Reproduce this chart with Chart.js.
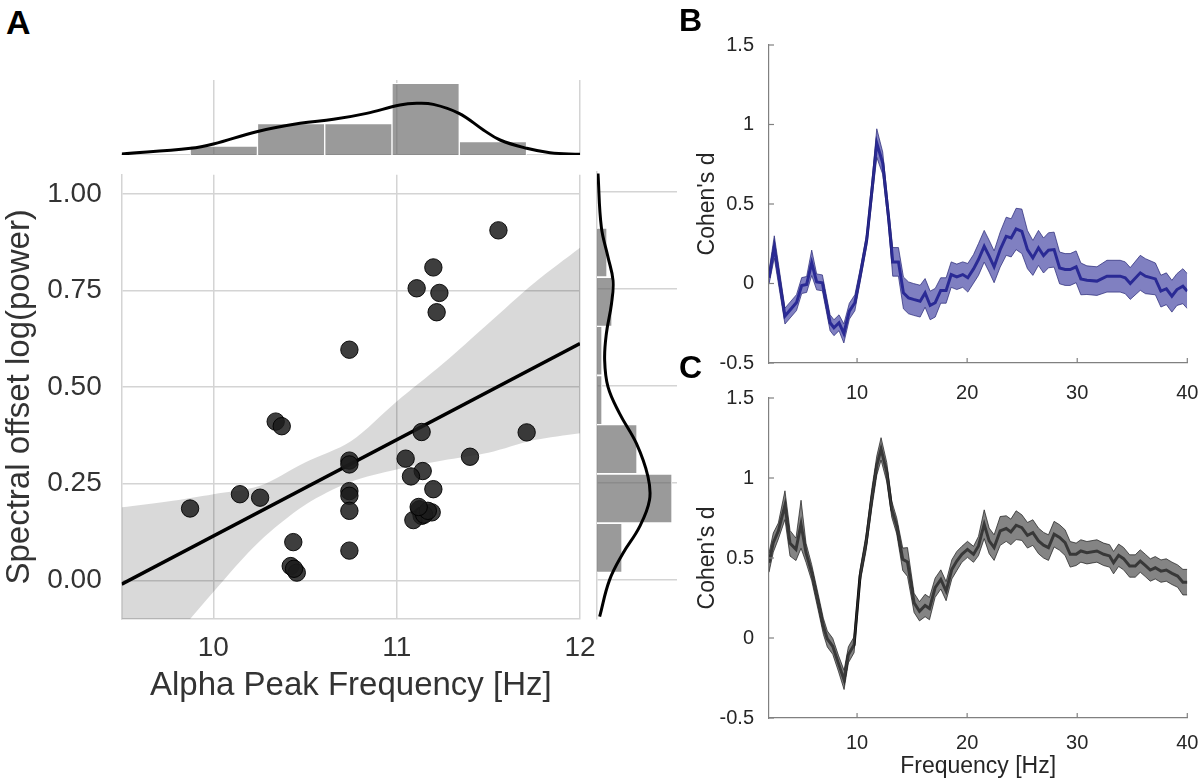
<!DOCTYPE html>
<html>
<head>
<meta charset="utf-8">
<script src="https://cdn.jsdelivr.net/npm/chart.js@4.4.1/dist/chart.umd.min.js"></script>
<style>
  body { margin: 0; background: #fff; }
  #page { position: relative; width: 1200px; height: 781px; overflow: hidden; background: #fff; }
  canvas { position: absolute; }
  .lbl { position: absolute; font-family: 'Liberation Sans', Arial, sans-serif; font-weight: bold; line-height: 1; color: #000; }
</style>
</head>
<body>
<div id="page">
  <canvas id="topHist" width="600" height="80" style="left:0px;top:75px"></canvas>
  <canvas id="scatterA" width="600" height="545" style="left:0px;top:165px"></canvas>
  <canvas id="rightHist" width="100" height="460" style="left:590px;top:165px"></canvas>
  <canvas id="chartB" width="510" height="380" style="left:690px;top:35px"></canvas>
  <canvas id="chartC" width="510" height="396" style="left:690px;top:385px"></canvas>
  <div class="lbl" style="left:6px;top:5px;font-size:34px">A</div>
  <div class="lbl" style="left:679px;top:4px;font-size:32px">B</div>
  <div class="lbl" style="left:679px;top:351px;font-size:32px">C</div>
</div>
<script>
// ---- panel A: alpha peak frequency vs spectral offset ----
var apfX = [11.555, 11.2, 11.109, 11.233, 11.218, 10.742, 10.34, 10.373, 11.136, 11.709,
            10.742, 11.049, 11.4, 11.142, 11.078, 11.2, 10.742, 10.742, 10.145, 10.255,
            9.873, 10.742, 11.124, 11.191, 11.136, 11.091, 10.436, 10.742, 10.422, 10.455,
            11.15, 11.17, 11.12, 10.44, 10.742];
var offsetY = [0.906, 0.81, 0.756, 0.744, 0.694, 0.597, 0.411, 0.399, 0.384, 0.383,
               0.31, 0.315, 0.32, 0.283, 0.269, 0.236, 0.231, 0.219, 0.223, 0.214,
               0.186, 0.18, 0.184, 0.176, 0.167, 0.156, 0.099, 0.077, 0.037, 0.02,
               0.17, 0.18, 0.19, 0.03, 0.30];

var regX = [9.5, 12];
var regY = [-0.01, 0.613];

var ciX    = [9.5, 9.75, 10, 10.25, 10.5, 10.75, 11, 11.25, 11.5, 11.75, 12];
var ciLow  = [-0.32, -0.17, -0.03, 0.1, 0.195, 0.255, 0.287, 0.31, 0.33, 0.363, 0.381];
var ciHigh = [0.189, 0.204, 0.223, 0.244, 0.305, 0.36, 0.463, 0.56, 0.665, 0.77, 0.861];

var apfTicks = [10, 11, 12];
var offTicks = [0, 0.25, 0.5, 0.75, 1];

// marginal histograms + kde
var histApfCenters = [10.057, 10.424, 10.791, 11.158, 11.525];
var histApfCounts  = [2, 7, 7, 16, 3];
var kdeApfX = [9.5, 9.876, 10, 10.236, 10.473, 10.655, 10.836, 11.018, 11.109, 11.2, 11.34, 11.473, 11.564, 11.709, 11.836, 12];
var kdeApfY = [0.22, 1.49, 2.46, 5.2, 7.07, 7.96, 9.3, 11.16, 11.53, 11.3, 9.3, 5.6, 3.35, 1.49, 0.52, 0.15];

var histOffCenters = [0.083, 0.210, 0.337, 0.463, 0.590, 0.716, 0.843];
var histOffCounts  = [5, 15, 8, 1, 1, 3, 2];
var kdeOffY = [1.046, 0.908, 0.831, 0.771, 0.711, 0.634, 0.566, 0.497, 0.429, 0.351, 0.266, 0.206, 0.137, 0.069, 0.0, -0.094];
var kdeOffX = [0.2, 0.87, 2.2, 3.2, 2.9, 1.87, 1.53, 2.2, 4.5, 7.9, 10.2, 10.5, 8.5, 5.2, 2.5, 0.53];

// ---- panel B ----
var freqB = [2,2.48,3.45,4.5,4.97,5.42,5.88,6.33,6.85,7.55,7.9,8.36,8.8,9.3,9.8,10.27,10.88,11.42,11.79,12.33,
             12.85,13.24,13.76,14.21,14.67,15.12,15.73,16.18,16.64,17.1,17.6,18.09,18.55,19.06,19.6,20.06,20.58,21.03,21.55,22,
             22.45,23,23.55,24,24.45,24.97,25.48,25.97,26.48,26.94,27.39,27.9,28.4,28.9,29.36,29.9,30.33,30.88,31.79,32.7,
             33.9,34.36,34.82,35.73,36.2,37.1,37.6,38.1,38.6,39.06,39.6,40];
var dB = [0.036,0.23,-0.205,-0.12,-0.013,-0.006,0.13,0.01,0.004,-0.247,-0.278,-0.247,-0.314,-0.174,-0.121,0.046,0.276,0.632,0.883,0.757,
          0.423,0.136,0.136,-0.059,-0.09,-0.1,-0.111,-0.059,-0.138,-0.121,-0.044,-0.044,0.056,0.042,0.056,0.036,0.092,0.151,0.234,0.172,
          0.105,0.213,0.297,0.287,0.343,0.328,0.213,0.161,0.224,0.176,0.209,0.213,0.098,0.088,0.088,0.105,0.029,0.021,0.015,0.046,
          0.046,0.036,0,0.067,0.046,0.029,-0.048,-0.033,-0.08,-0.038,-0.017,-0.048];
var ciB = [0.04,0.07,0.05,0.05,0.05,0.05,0.08,0.05,0.05,0.05,0.05,0.05,0.06,0.05,0.05,0.04,0.04,0.06,0.09,0.07,
           0.05,0.09,0.09,0.1,0.1,0.1,0.1,0.09,0.09,0.09,0.08,0.08,0.08,0.08,0.08,0.09,0.09,0.1,0.1,0.1,
           0.1,0.11,0.12,0.12,0.13,0.14,0.12,0.11,0.11,0.11,0.11,0.11,0.1,0.1,0.1,0.1,0.1,0.09,0.09,0.1,
           0.1,0.1,0.1,0.11,0.11,0.1,0.1,0.1,0.1,0.1,0.11,0.11];

// ---- panel C ----
var freqC = [2,2.39,2.85,3.45,3.91,4.45,4.91,5.36,5.88,6.48,6.94,7.3,7.79,8.3,8.82,9.21,9.73,10.27,10.82,11.33,
             11.79,12.18,12.7,13.15,13.6,14.15,14.58,15.18,15.67,16.18,16.58,17.09,17.61,18.09,18.61,19.06,19.52,20.03,20.58,21.03,
             21.55,22,22.45,23,23.55,23.97,24.45,24.97,25.48,25.97,26.48,26.94,27.39,27.9,28.4,28.9,29.36,29.9,30.33,30.88,
             31.79,32.4,32.94,33.3,33.76,34.21,34.76,35.27,35.73,36.18,36.64,37.09,37.61,38.09,38.61,39.12,39.6,40];
var dC = [0.471,0.596,0.669,0.83,0.592,0.554,0.711,0.533,0.408,0.22,0.073,-0.006,-0.052,-0.157,-0.262,-0.105,-0.042,0.387,0.596,0.868,
          1.077,1.182,1.036,0.805,0.701,0.492,0.475,0.22,0.167,0.203,0.184,0.314,0.366,0.293,0.429,0.481,0.523,0.554,0.523,0.575,
          0.711,0.607,0.565,0.669,0.684,0.663,0.705,0.69,0.642,0.659,0.607,0.58,0.565,0.649,0.628,0.596,0.523,0.523,0.544,0.533,
          0.544,0.523,0.513,0.471,0.517,0.496,0.45,0.45,0.481,0.454,0.425,0.439,0.418,0.425,0.404,0.387,0.349,0.349];
var ciC = [0.06,0.06,0.05,0.09,0.08,0.07,0.15,0.06,0.05,0.05,0.05,0.05,0.05,0.05,0.06,0.05,0.05,0.04,0.05,0.06,
           0.06,0.07,0.06,0.05,0.05,0.07,0.09,0.06,0.06,0.07,0.07,0.06,0.06,0.06,0.06,0.06,0.05,0.05,0.05,0.06,
           0.09,0.08,0.08,0.09,0.08,0.08,0.09,0.08,0.08,0.08,0.08,0.08,0.08,0.08,0.08,0.08,0.08,0.07,0.07,0.07,
           0.07,0.07,0.07,0.07,0.07,0.07,0.07,0.07,0.07,0.07,0.07,0.07,0.07,0.07,0.07,0.07,0.08,0.08];

var freqTicks = [10, 20, 30, 40];
var dTicks = [-0.5, 0, 0.5, 1, 1.5];

Chart.defaults.font.family = "'Liberation Sans', Arial, sans-serif";
Chart.defaults.color = '#262626';

var gridGray = '#d4d4d4';

function pts(xs, ys) {
  return xs.map(function (x, i) { return {x: x, y: ys[i]}; });
}
function setTicks(list) {
  return function (scale) {
    scale.ticks = list.map(function (v) { return {value: v}; });
  };
}
var noPlugins = { legend: {display: false}, tooltip: {enabled: false} };

// small inward tick marks, matlab style
var inwardTicks = {
  id: 'inwardTicks',
  afterDatasetsDraw: function (chart) {
    var ctx = chart.ctx, a = chart.chartArea, x = chart.scales.x, y = chart.scales.y;
    ctx.save();
    ctx.strokeStyle = '#808080';
    ctx.lineWidth = 1.2;
    x.ticks.forEach(function (t) {
      var px = x.getPixelForValue(t.value);
      ctx.beginPath(); ctx.moveTo(px, a.bottom); ctx.lineTo(px, a.bottom - 5); ctx.stroke();
    });
    y.ticks.forEach(function (t) {
      var py = y.getPixelForValue(t.value);
      ctx.beginPath(); ctx.moveTo(a.left, py); ctx.lineTo(a.left + 5, py); ctx.stroke();
    });
    ctx.restore();
  }
};

// Top marginal histogram
new Chart(document.getElementById('topHist'), {
  type: 'bar',
  data: {
    datasets: [{
      data: pts(histApfCenters, histApfCounts),
      backgroundColor: 'rgba(100,100,100,0.65)',
      borderColor: '#ffffff',
      borderWidth: 1,
      barPercentage: 1,
      categoryPercentage: 1,
      order: 1
    }, {
      type: 'line',
      data: pts(kdeApfX, kdeApfY),
      borderColor: '#000',
      borderWidth: 3,
      pointRadius: 0,
      tension: 0.4,
      fill: false,
      order: 0
    }]
  },
  options: {
    responsive: false,
    animation: false,
    plugins: noPlugins,
    layout: { padding: {left: 121.7, right: 20, top: 5, bottom: 0} },
    scales: {
      x: {
        type: 'linear', min: 9.5, max: 12, offset: false,
        afterBuildTicks: setTicks(apfTicks),
        ticks: {display: false},
        grid: {color: gridGray, lineWidth: 1.5, drawTicks: false, offset: false},
        border: {color: gridGray, width: 1.5},
        afterFit: function (s) { s.height = 0; s.paddingLeft = 0; s.paddingRight = 0; }
      },
      y: { min: 0, max: 16.75, display: false }
    }
  }
});

// Main scatter
new Chart(document.getElementById('scatterA'), {
  type: 'scatter',
  data: {
    datasets: [{
      type: 'line',
      data: pts(ciX, ciLow),
      borderWidth: 0,
      borderColor: 'rgba(0,0,0,0)',
      pointRadius: 0,
      tension: 0.3,
      fill: false,
      order: 3
    }, {
      type: 'line',
      data: pts(ciX, ciHigh),
      borderWidth: 0,
      borderColor: 'rgba(0,0,0,0)',
      backgroundColor: 'rgba(0,0,0,0.15)',
      pointRadius: 0,
      tension: 0.3,
      fill: '-1',
      order: 2
    }, {
      type: 'line',
      data: pts(regX, regY),
      borderColor: '#000',
      borderWidth: 3.5,
      pointRadius: 0,
      fill: false,
      order: 1
    }, {
      data: pts(apfX, offsetY),
      backgroundColor: 'rgba(28,28,28,0.85)',
      borderColor: 'rgba(0,0,0,0.9)',
      borderWidth: 1,
      pointRadius: 8.7,
      order: 0
    }]
  },
  options: {
    responsive: false,
    animation: false,
    plugins: noPlugins,
    layout: { padding: {left: 0, right: 20, top: 7, bottom: 0} },
    scales: {
      x: {
        type: 'linear', min: 9.5, max: 12,
        afterBuildTicks: setTicks(apfTicks),
        ticks: {font: {size: 28}, color: '#333', padding: 12, maxRotation: 0,
                callback: function (v) { return String(v); }},
        grid: {color: gridGray, lineWidth: 1.5, drawTicks: false},
        border: {color: gridGray, width: 1.5},
        title: {display: true, text: 'Alpha Peak Frequency [Hz]', color: '#333',
                font: {size: 33}, padding: {top: 0, bottom: 4}},
        afterFit: function (s) { s.height = 91; s.paddingLeft = 0; s.paddingRight = 0; }
      },
      y: {
        type: 'linear', min: -0.1, max: 1.05,
        afterBuildTicks: setTicks(offTicks),
        ticks: {font: {size: 28}, color: '#333', padding: 20,
                callback: function (v) { return v.toFixed(2); }},
        grid: {color: gridGray, lineWidth: 1.5, drawTicks: false},
        border: {color: gridGray, width: 1.5},
        title: {display: true, text: 'Spectral offset log(power)', color: '#333',
                font: {size: 33}, padding: {top: 0, bottom: 0}},
        afterFit: function (s) { s.width = 121.7; s.paddingTop = 0; s.paddingBottom = 0; }
      }
    }
  }
});

// Right marginal histogram
new Chart(document.getElementById('rightHist'), {
  type: 'bar',
  data: {
    datasets: [{
      data: histOffCenters.map(function (c, i) { return {x: histOffCounts[i], y: c}; }),
      backgroundColor: 'rgba(100,100,100,0.65)',
      borderColor: '#ffffff',
      borderWidth: 1,
      barPercentage: 1,
      categoryPercentage: 1,
      order: 1
    }, {
      type: 'line',
      data: pts(kdeOffX, kdeOffY),
      borderColor: '#000',
      borderWidth: 3,
      pointRadius: 0,
      tension: 0.4,
      fill: false,
      order: 0
    }]
  },
  options: {
    indexAxis: 'y',
    responsive: false,
    animation: false,
    plugins: noPlugins,
    layout: { padding: {left: 7, right: 13, top: 7, bottom: 6} },
    scales: {
      y: {
        type: 'linear', min: -0.1, max: 1.05, offset: false,
        afterBuildTicks: setTicks(offTicks),
        ticks: {display: false},
        grid: {color: gridGray, lineWidth: 1.5, drawTicks: false, offset: false},
        border: {color: gridGray, width: 1.5},
        afterFit: function (s) { s.width = 0; s.paddingTop = 0; s.paddingBottom = 0; }
      },
      x: { type: 'linear', min: 0, max: 16, display: false }
    }
  }
});

function effectChart(id, freq, d, ci, lineColor, bandColor, edgeColor, opts) {
  var lower = d.map(function (v, i) { return v - ci[i]; });
  var upper = d.map(function (v, i) { return v + ci[i]; });
  return new Chart(document.getElementById(id), {
    type: 'line',
    data: {
      datasets: [{
        data: pts(freq, lower),
        borderColor: edgeColor, borderWidth: 0.8, pointRadius: 0, fill: false
      }, {
        data: pts(freq, upper),
        borderColor: edgeColor, borderWidth: 0.8, pointRadius: 0,
        fill: '-1', backgroundColor: bandColor
      }, {
        data: pts(freq, d),
        borderColor: lineColor, borderWidth: 3, pointRadius: 0, fill: false
      }]
    },
    plugins: [inwardTicks],
    options: {
      responsive: false,
      animation: false,
      plugins: noPlugins,
      layout: { padding: {left: 0, right: 12.7, top: opts.padTop, bottom: 0} },
      scales: {
        x: {
          type: 'linear', min: 2, max: 40,
          afterBuildTicks: setTicks(freqTicks),
          ticks: {font: {size: 20}, color: '#262626', padding: opts.xPad, maxRotation: 0,
                  callback: function (v) { return String(v); }},
          grid: {display: false},
          border: {color: '#808080', width: 1.2},
          title: {display: opts.xTitle, text: 'Frequency [Hz]', color: '#262626',
                  font: {size: 23}, padding: {top: 0, bottom: 1}},
          afterFit: function (s) { s.height = opts.xHeight; s.paddingLeft = 0; s.paddingRight = 0; }
        },
        y: {
          type: 'linear', min: -0.5, max: 1.5,
          afterBuildTicks: setTicks(dTicks),
          ticks: {font: {size: 20}, color: '#262626', padding: 7,
                  callback: function (v) { return String(v); }},
          grid: {display: false},
          border: {color: '#808080', width: 1.2},
          title: {display: true, text: "Cohen's d", color: '#262626',
                  font: {size: 23}, padding: {top: 4, bottom: 0}},
          afterFit: function (s) { s.width = 79; s.paddingTop = 0; s.paddingBottom = 0; }
        }
      }
    }
  });
}

effectChart('chartB', freqB, dB, ciB, '#0a0a80', 'rgba(60,60,160,0.65)', 'rgba(40,40,120,0.9)',
            {padTop: 10, xPad: 10, xHeight: 52, xTitle: false});
effectChart('chartC', freqC, dC, ciC, '#000000', 'rgba(80,80,80,0.7)', 'rgba(30,30,30,0.9)',
            {padTop: 13, xPad: 5, xHeight: 63, xTitle: true});
</script>
</body>
</html>
